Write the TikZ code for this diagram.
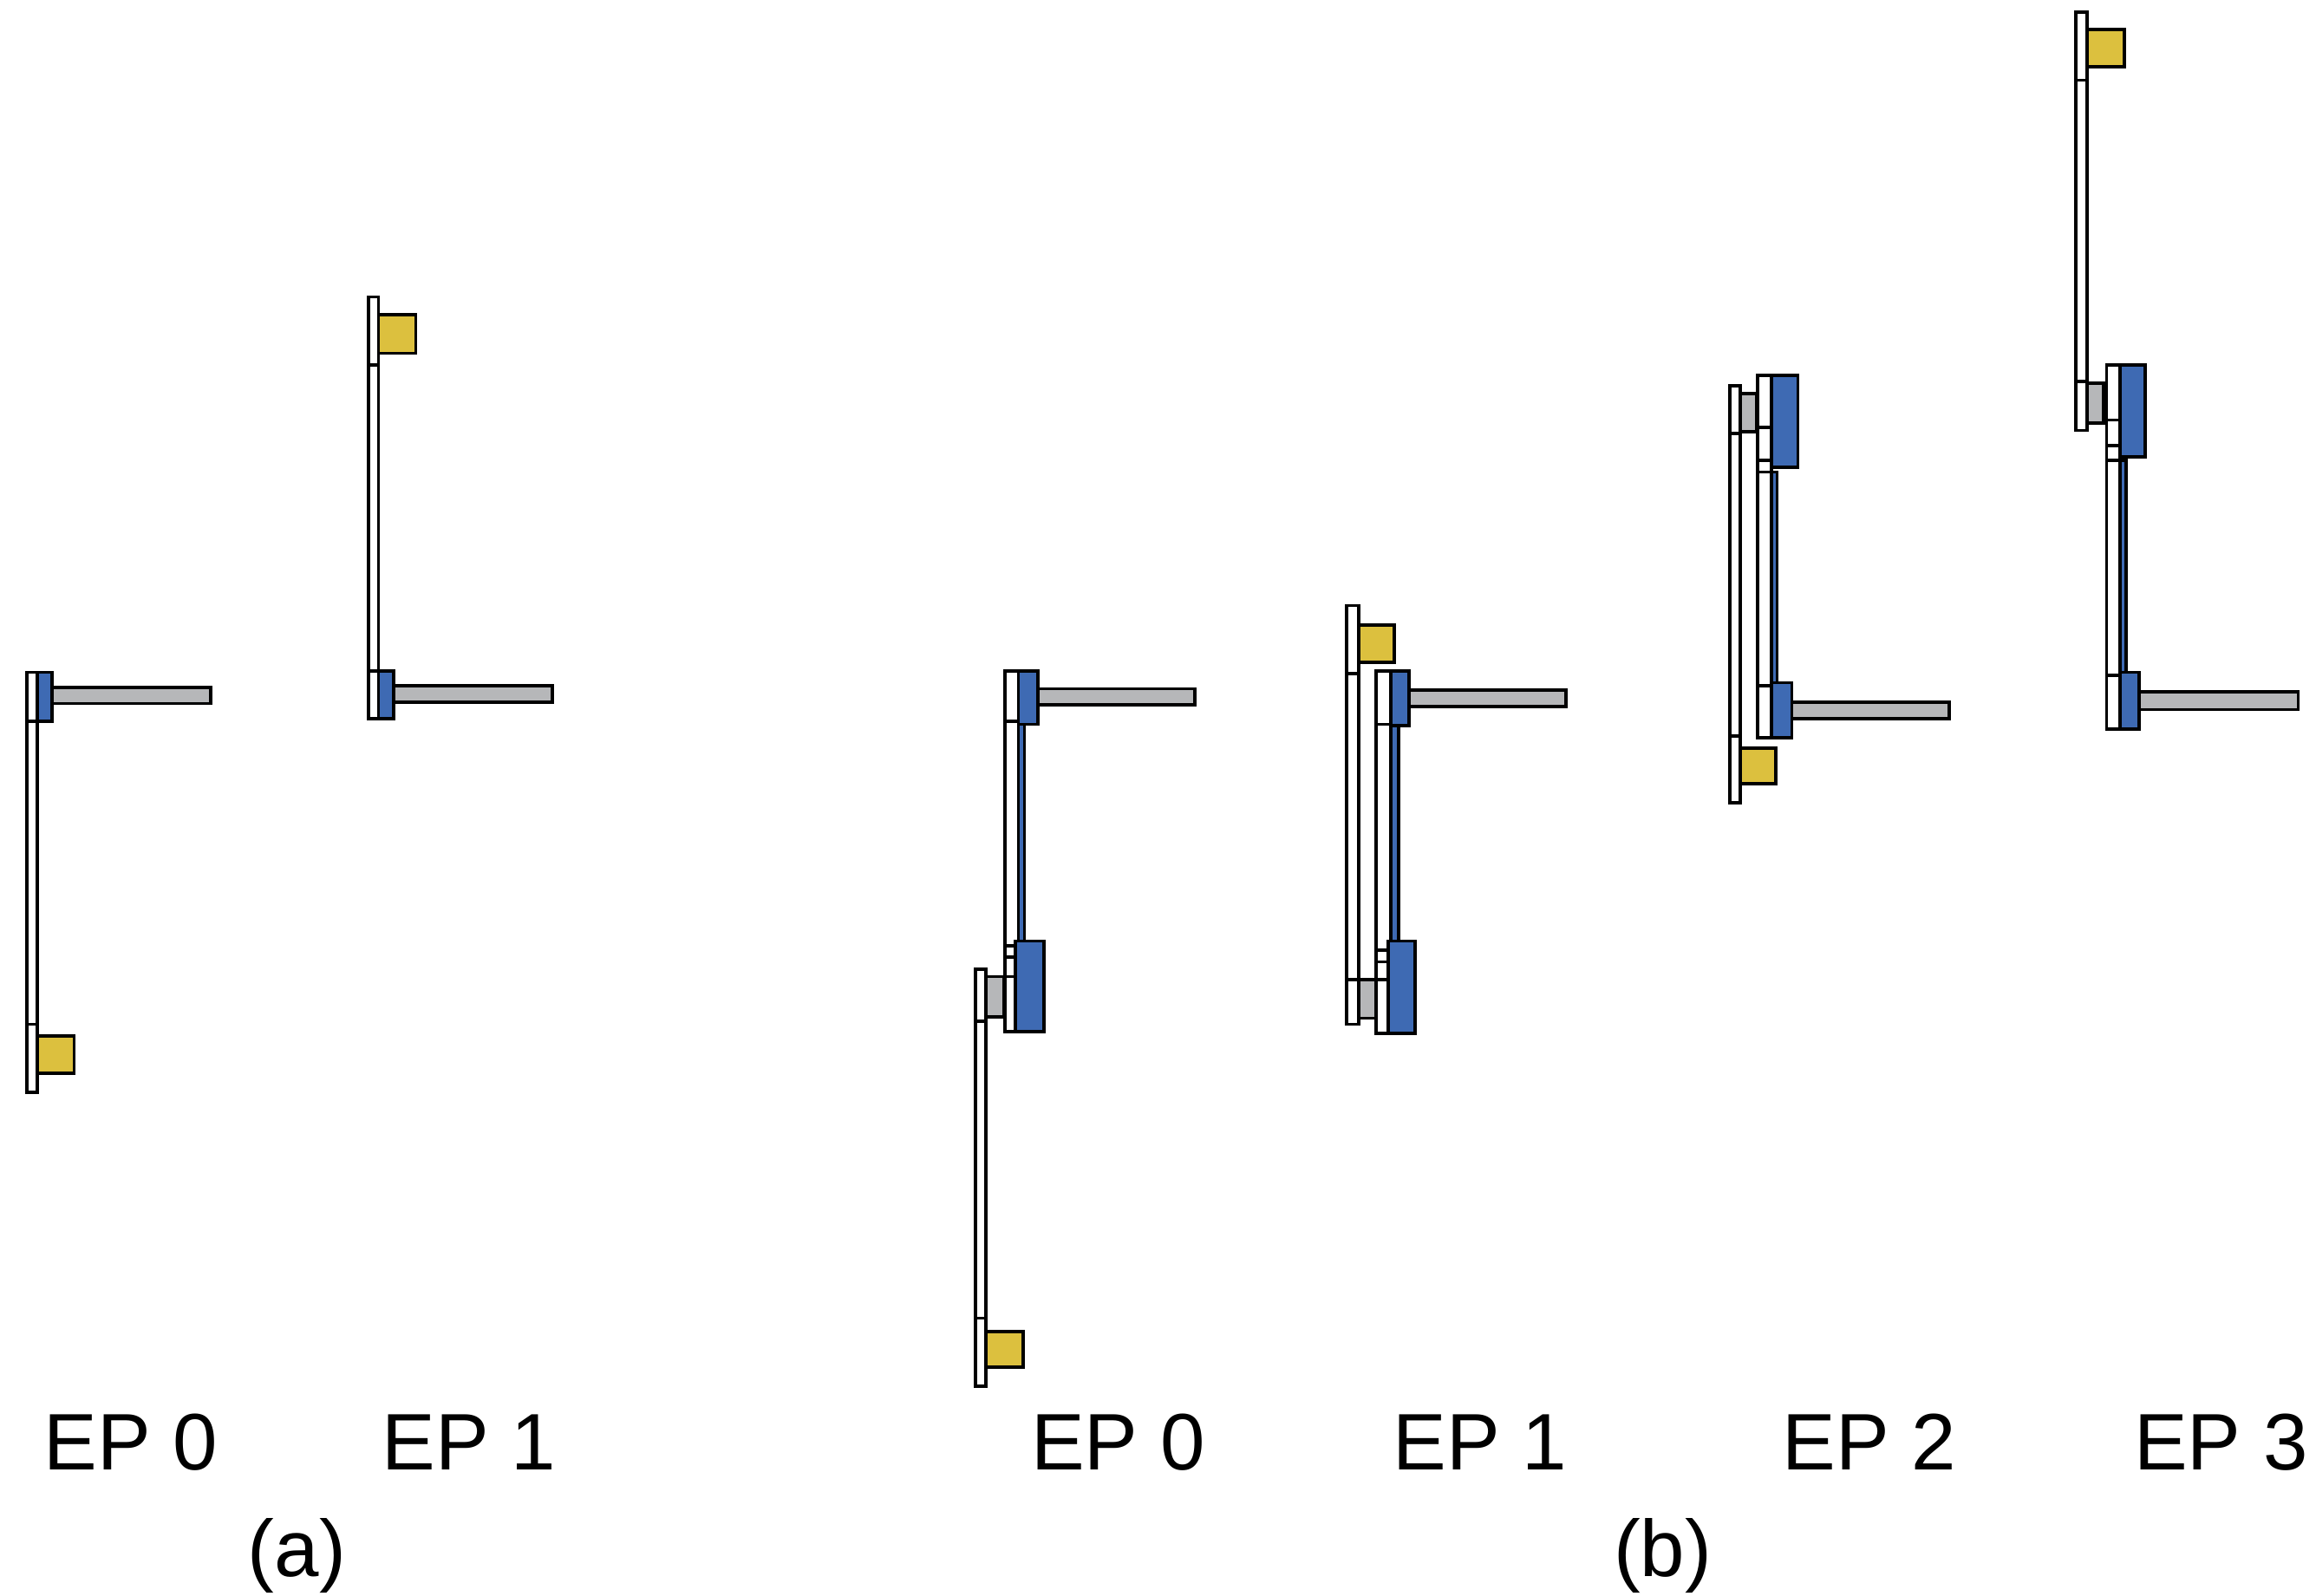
\documentclass[tikz,border=0pt]{standalone}
\usepackage{fontspec}
\setmainfont{Liberation Sans}
\definecolor{bl}{HTML}{3E6AB3}
\definecolor{gr}{HTML}{B6B7B9}
\definecolor{ye}{HTML}{DCC03E}
\newcommand{\bx}[5]{\draw[fill=#5] (#1,#2) rectangle (#3,#4);}
\newcommand{\dv}[3]{\draw (#1,#3) -- (#2,#3);}
\begin{document}
\begin{tikzpicture}[x=0.5pt,y=-0.5pt,line width=1.1pt,line join=miter,
  lab/.style={font=\fontsize{27}{30}\selectfont,anchor=base}]
\useasboundingbox (0,0) rectangle (1560,1075);
% (a) EP0
\bx{18}{453}{25}{736}{white}\dv{18}{25}{486}\dv{18}{25}{690}
\bx{35}{463}{142}{474}{gr}
\bx{25}{453}{35}{486}{bl}
\bx{25}{698}{50}{723}{ye}
% (a) EP1
\bx{248}{200}{255}{484}{white}\dv{248}{255}{246}\dv{248}{255}{452}
\bx{255}{212}{280}{238}{ye}
\bx{265}{462}{372}{473}{gr}
\bx{255}{452}{265}{484}{bl}
% (b) EP0
\bx{657}{653}{664}{934}{white}\dv{657}{664}{688}\dv{657}{664}{888}
\bx{664}{658}{676}{685}{gr}
\bx{664}{897}{689}{921}{ye}
\bx{677}{452}{686}{695}{white}\dv{677}{686}{486}\dv{677}{686}{637}\dv{677}{686}{645}\dv{677}{686}{658}
\bx{699}{464}{805}{475}{gr}
\bx{686}{485}{690}{634}{bl}
\bx{686}{452}{699}{488}{bl}
\bx{684}{634}{703}{695}{bl}
% (b) EP1
\bx{907}{408}{915}{690}{white}\dv{907}{915}{454}\dv{907}{915}{660}
\bx{915}{421}{939}{446}{ye}
\bx{915}{660}{928}{686}{gr}
\bx{927}{452}{937}{696}{white}\dv{927}{937}{488}\dv{927}{937}{640}\dv{927}{937}{648}\dv{927}{937}{660}
\bx{949}{465}{1055}{476}{gr}
\bx{937}{489}{942}{636}{bl}
\bx{937}{452}{949}{489}{bl}
\bx{935}{634}{953}{696}{bl}
% (b) EP2
\bx{1165}{260}{1172}{541}{white}\dv{1165}{1172}{292}\dv{1165}{1172}{496}
\bx{1172}{265}{1183}{291}{gr}
\bx{1172}{504}{1196}{528}{ye}
\bx{1184}{253}{1193}{497}{white}\dv{1184}{1193}{288}\dv{1184}{1193}{310}\dv{1184}{1193}{318}\dv{1184}{1193}{462}
\bx{1207}{473}{1313}{484}{gr}
\bx{1193}{318}{1197}{462}{bl}
\bx{1193}{253}{1211}{315}{bl}
\bx{1193}{460}{1207}{497}{bl}
% (b) EP3
\bx{1398}{8}{1406}{290}{white}\dv{1398}{1406}{54}\dv{1398}{1406}{257}
\bx{1406}{20}{1431}{45}{ye}
\bx{1406}{258}{1417}{285}{gr}
\bx{1419}{246}{1428}{491}{white}\dv{1419}{1428}{283}\dv{1419}{1428}{300}\dv{1419}{1428}{310}\dv{1419}{1428}{455}
\bx{1441}{466}{1548}{478}{gr}
\bx{1428}{310}{1432}{455}{bl}
\bx{1428}{246}{1445}{308}{bl}
\bx{1428}{453}{1441}{491}{bl}
% labels
\node[lab] (l1) at (88,990) {EP 0};
\node[lab] (l2) at (316,990) {EP 1};
\node[lab] (l3) at (753,990) {EP 0};
\node[lab] (l4) at (997,990) {EP 1};
\node[lab] (l5) at (1259,990) {EP 2};
\node[lab] (l6) at (1496,990) {EP 3};
\node[lab] (ca) at (200,1062) {(a)};
\node[lab] (cb) at (1120,1062) {(b)};
\end{tikzpicture}
\end{document}
